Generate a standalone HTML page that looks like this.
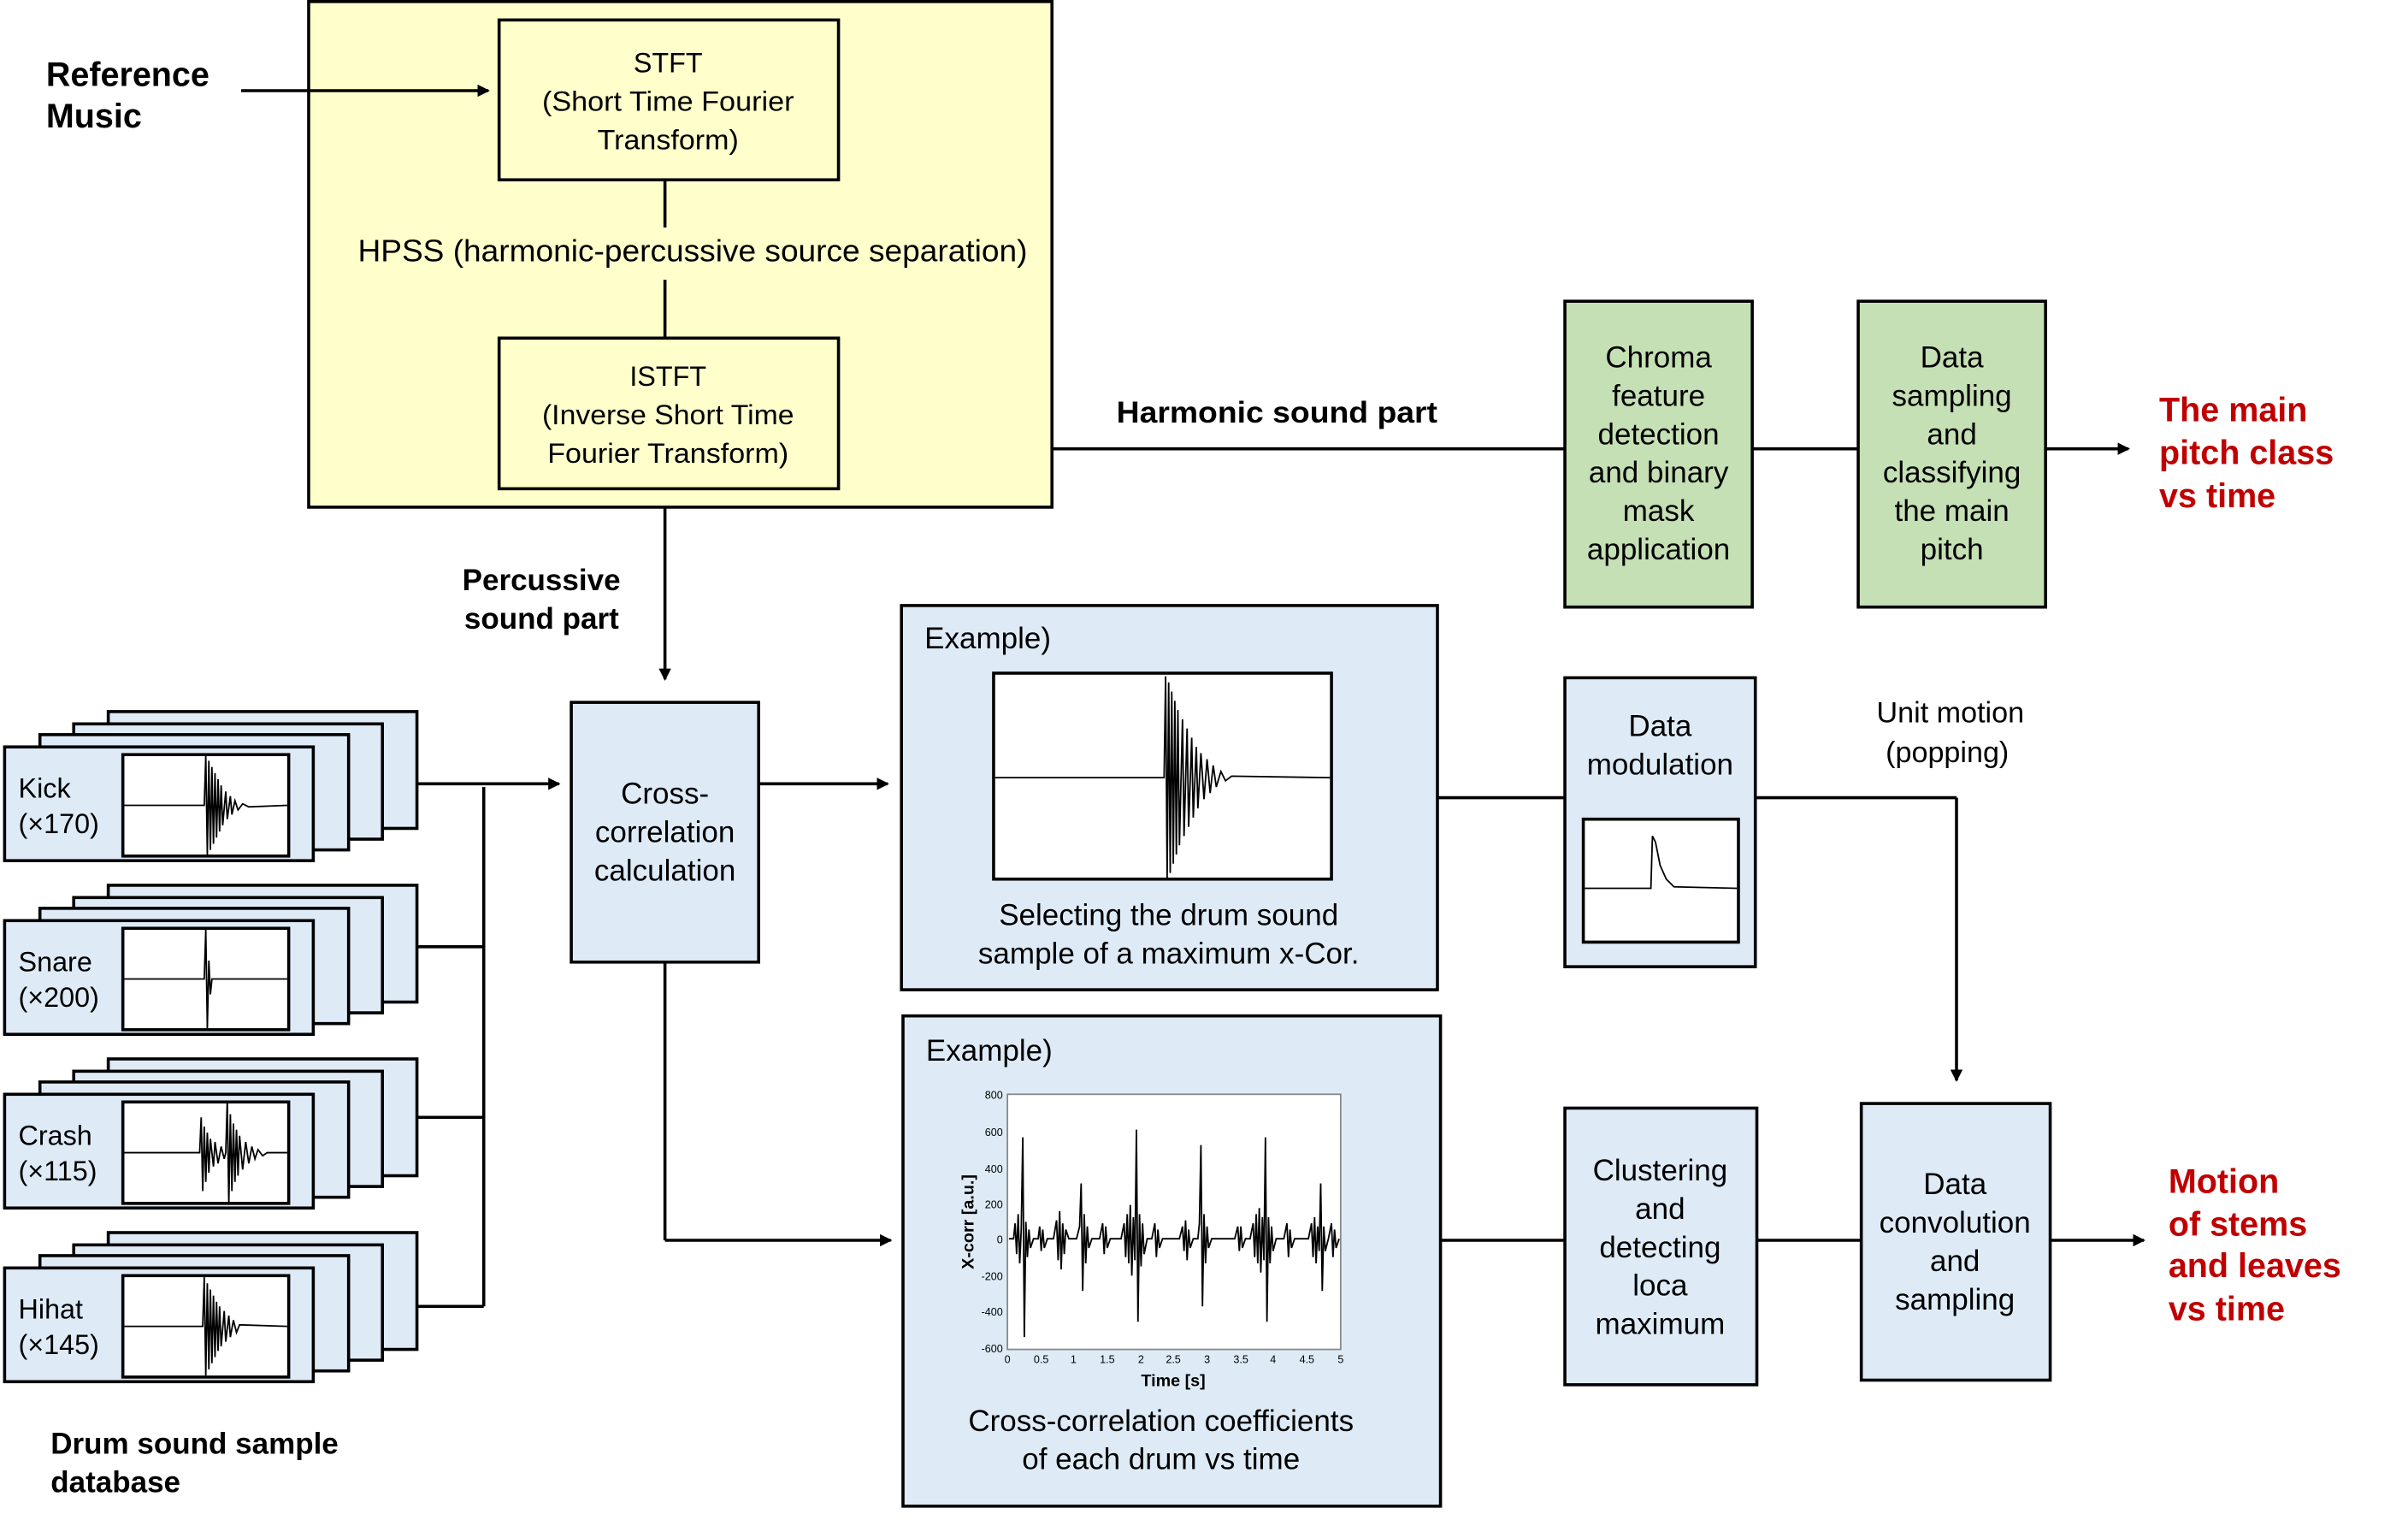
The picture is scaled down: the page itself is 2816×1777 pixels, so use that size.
<!DOCTYPE html>
<html><head><meta charset="utf-8"><style>
html,body{margin:0;padding:0;background:#fff;}
svg{display:block;}
text{font-family:"Liberation Sans",sans-serif;fill:#000;}
.b{font-weight:bold;}
.r{fill:#C00000;font-weight:bold;font-size:22px;}
.t{font-size:19.5px;text-anchor:middle;}
.y{font-size:18px;text-anchor:middle;}
.ln{stroke:#000;stroke-width:2;fill:none;}
.bx{stroke:#000;stroke-width:2;fill:#DEEBF7;}
.gr{stroke:#000;stroke-width:2;fill:#C5E0B4;}
.wv{stroke:#000;stroke-width:1;fill:none;}
</style></head><body>
<svg width="2816" height="1777" viewBox="0 0 1568 989" preserveAspectRatio="none" xmlns="http://www.w3.org/2000/svg">
<defs>
<marker id="a" markerWidth="8" markerHeight="8" refX="7" refY="4" orient="auto" markerUnits="userSpaceOnUse"><path d="M0,0 L8,4 L0,8 z" fill="#000"/></marker>
<g id="stack">
<rect x="70.5" y="463" width="201" height="76" class="bx"/>
<rect x="48" y="471" width="201" height="75" class="bx"/>
<rect x="26" y="478" width="201" height="75" class="bx"/>
<rect x="3" y="486" width="201" height="74" class="bx"/>
<rect x="80" y="491" width="108" height="66" fill="#fff" stroke="#000" stroke-width="2"/>
</g>
</defs>

<!-- yellow -->
<rect x="201" y="1" width="484" height="329" fill="#FFFFCC" stroke="#000" stroke-width="2"/>
<rect x="325" y="13" width="221" height="104" fill="#FFFFCC" stroke="#000" stroke-width="2"/>
<text x="435" y="47" class="y">STFT</text>
<text x="435" y="72" class="y" textLength="164" lengthAdjust="spacingAndGlyphs">(Short Time Fourier</text>
<text x="435" y="97" class="y" textLength="92" lengthAdjust="spacingAndGlyphs">Transform)</text>
<line x1="433" y1="117" x2="433" y2="148" class="ln"/>
<text x="451" y="170" font-size="20" text-anchor="middle" textLength="436" lengthAdjust="spacingAndGlyphs">HPSS (harmonic-percussive source separation)</text>
<line x1="433" y1="182" x2="433" y2="220" class="ln"/>
<rect x="325" y="220" width="221" height="98" fill="#FFFFCC" stroke="#000" stroke-width="2"/>
<text x="435" y="251" class="y">ISTFT</text>
<text x="435" y="276" class="y" textLength="164" lengthAdjust="spacingAndGlyphs">(Inverse Short Time</text>
<text x="435" y="301" class="y" textLength="157" lengthAdjust="spacingAndGlyphs">Fourier Transform)</text>

<!-- Reference music -->
<text x="30" y="56" class="b" font-size="22">Reference</text>
<text x="30" y="83" class="b" font-size="22">Music</text>
<line x1="157" y1="59" x2="318" y2="59" class="ln" stroke-width="1.5" marker-end="url(#a)"/>

<!-- harmonic path -->
<line x1="685" y1="292" x2="1019" y2="292" class="ln"/>
<text x="727" y="275" class="b" font-size="19.5" textLength="209" lengthAdjust="spacingAndGlyphs">Harmonic sound part</text>
<rect x="1019" y="196" width="122" height="199" class="gr"/>
<text class="t" x="1080" y="239">Chroma</text>
<text class="t" x="1080" y="264">feature</text>
<text class="t" x="1080" y="289">detection</text>
<text class="t" x="1080" y="314">and binary</text>
<text class="t" x="1080" y="339">mask</text>
<text class="t" x="1080" y="364">application</text>
<line x1="1141" y1="292" x2="1210" y2="292" class="ln"/>
<rect x="1210" y="196" width="122" height="199" class="gr"/>
<text class="t" x="1271" y="239">Data</text>
<text class="t" x="1271" y="264">sampling</text>
<text class="t" x="1271" y="289">and</text>
<text class="t" x="1271" y="314">classifying</text>
<text class="t" x="1271" y="339">the main</text>
<text class="t" x="1271" y="364">pitch</text>
<line x1="1332" y1="292" x2="1386" y2="292" class="ln" marker-end="url(#a)"/>
<text x="1406" y="274" class="r">The main</text>
<text x="1406" y="302" class="r">pitch class</text>
<text x="1406" y="330" class="r">vs time</text>

<!-- percussive -->
<line x1="433" y1="330" x2="433" y2="442" class="ln" stroke-width="1.5" marker-end="url(#a)"/>
<text x="404" y="384" class="b" font-size="19.5" text-anchor="end">Percussive</text>
<text x="403" y="409" class="b" font-size="19.5" text-anchor="end">sound part</text>

<!-- drum stacks -->
<use href="#stack"/>
<use href="#stack" y="113"/>
<use href="#stack" y="226"/>
<use href="#stack" y="339"/>
<text x="12" y="519" font-size="18">Kick</text>
<text x="12" y="542" font-size="18">(×170)</text>
<text x="12" y="632" font-size="18">Snare</text>
<text x="12" y="655" font-size="18">(×200)</text>
<text x="12" y="745" font-size="18">Crash</text>
<text x="12" y="768" font-size="18">(×115)</text>
<text x="12" y="858" font-size="18">Hihat</text>
<text x="12" y="881" font-size="18">(×145)</text>
<path class="wv" d="M81,524 L133,524 L134,492 L135,556 L136,495 L137,553 L138,499 L139,549 L140,503 L141,545 L142,507 L143,541 L144,511 L145,537 L147,515 L148,533 L150,518 L151,530 L153,521 L155,527 L158,523 L162,525 L187,524"/>
<path class="wv" d="M81,637 L132,637 L133,637 L134,605 L135,669 L136,625 L137,647 L138,637 L187,637"/>
<path class="wv" d="M81,750 L130,750 L131,727 L132,775 L133,733 L134,769 L135,737 L136,763 L137,741 L139,759 L140,743 L142,757 L144,746 L146,754 L147,750 L148,716 L149,784 L150,725 L151,775 L152,731 L153,769 L154,735 L155,765 L156,739 L158,761 L160,743 L162,757 L164,746 L166,754 L168,748 L171,752 L174,750 L187,750"/>
<path class="wv" d="M81,863 L132,863 L133,831 L134,895 L135,835 L136,891 L137,839 L138,887 L139,843 L140,883 L141,847 L142,879 L143,850 L144,876 L146,853 L147,873 L149,856 L150,870 L152,859 L154,867 L156,862 L187,863"/>
<line x1="272" y1="510" x2="364" y2="510" class="ln" marker-end="url(#a)"/>
<line x1="315" y1="512" x2="315" y2="850" class="ln"/>
<line x1="272" y1="616" x2="315" y2="616" class="ln"/>
<line x1="272" y1="727" x2="315" y2="727" class="ln"/>
<line x1="272" y1="850" x2="315" y2="850" class="ln"/>
<text x="33" y="946" class="b" font-size="19.5">Drum sound sample</text>
<text x="33" y="971" class="b" font-size="19.5">database</text>

<!-- cross-correlation -->
<rect x="372" y="457" width="122" height="169" class="bx"/>
<text class="t" x="433" y="523">Cross-</text>
<text class="t" x="433" y="548">correlation</text>
<text class="t" x="433" y="573">calculation</text>
<line x1="494" y1="510" x2="578" y2="510" class="ln" stroke-width="1.5" marker-end="url(#a)"/>
<line x1="433" y1="626" x2="433" y2="807" class="ln"/>
<line x1="433" y1="807" x2="580" y2="807" class="ln" stroke-width="1.5" marker-end="url(#a)"/>

<!-- example 1 -->
<rect x="587" y="394" width="349" height="250" class="bx"/>
<text x="602" y="422" font-size="19.5">Example)</text>
<rect x="647" y="438" width="220" height="134" fill="#fff" stroke="#000" stroke-width="2"/>
<path class="wv" d="M648,506 L758,506 L759,440 L760,572 L761,444 L762,568 L763,450 L764,562 L765,456 L766,556 L767,462 L768,550 L770,468 L771,544 L773,474 L774,538 L776,480 L777,532 L779,486 L780,526 L782,490 L784,520 L786,494 L788,516 L790,498 L792,512 L795,502 L798,508 L802,505 L866,506"/>
<text class="t" x="761" y="602">Selecting the drum sound</text>
<text class="t" x="761" y="627">sample of a maximum x-Cor.</text>

<!-- data modulation -->
<line x1="936" y1="519" x2="1019" y2="519" class="ln"/>
<rect x="1019" y="441" width="124" height="188" class="bx"/>
<text class="t" x="1081" y="479">Data</text>
<text class="t" x="1081" y="504">modulation</text>
<rect x="1031" y="533" width="101" height="80" fill="#fff" stroke="#000" stroke-width="2"/>
<path class="wv" d="M1032,578 L1075,578 L1076,544 L1078,548 L1081,563 L1085,572 L1090,577 L1131,578"/>
<line x1="1143" y1="519" x2="1274" y2="519" class="ln"/>
<line x1="1274" y1="519" x2="1274" y2="703" class="ln" stroke-width="1.5" marker-end="url(#a)"/>
<text x="1270" y="470" font-size="19" text-anchor="middle">Unit motion</text>
<text x="1268" y="496" font-size="19" text-anchor="middle">(popping)</text>

<!-- example 2 -->
<rect x="588" y="661" width="350" height="319" class="bx"/>
<text x="603" y="690" font-size="19.5">Example)</text>
<rect x="656" y="712" width="217" height="166" fill="#fff" stroke="#888" stroke-width="1"/>
<g font-size="7" text-anchor="end">
<text x="653" y="715">800</text><text x="653" y="739">600</text><text x="653" y="763">400</text><text x="653" y="786">200</text><text x="653" y="809">0</text><text x="653" y="833">-200</text><text x="653" y="856">-400</text><text x="653" y="880">-600</text>
</g>
<g font-size="7" text-anchor="middle">
<text x="656" y="887">0</text><text x="678" y="887">0.5</text><text x="699" y="887">1</text><text x="721" y="887">1.5</text><text x="743" y="887">2</text><text x="764" y="887">2.5</text><text x="786" y="887">3</text><text x="808" y="887">3.5</text><text x="829" y="887">4</text><text x="851" y="887">4.5</text><text x="873" y="887">5</text>
</g>
<text x="764" y="902" font-size="11" font-weight="bold" text-anchor="middle">Time [s]</text>
<text x="0" y="0" font-size="11" font-weight="bold" text-anchor="middle" transform="translate(634,795) rotate(-90)">X-corr [a.u.]</text>
<path class="wv" stroke-width="1.2" d="M657,806 L660,806 L661,796 L662,816 L663,790 L664,822 L665,800 L666,740 L667,870 L668,795 L669,818 L670,800 L671,812 L673,806 L676,806 L677,798 L678,814 L679,800 L680,812 L682,806 L686,806 L688,794 L689,820 L690,788 L691,826 L692,796 L693,816 L694,800 L696,806 L701,806 L703,798 L704,770 L705,840 L706,790 L707,822 L708,798 L709,812 L711,806 L716,806 L718,796 L719,816 L720,798 L721,812 L723,806 L730,806 L732,796 L733,818 L734,790 L735,822 L736,784 L737,830 L738,792 L739,820 L740,735 L741,860 L742,790 L743,824 L744,796 L745,816 L747,806 L750,806 L752,796 L753,818 L754,800 L755,812 L757,806 L768,806 L770,798 L771,814 L772,794 L773,820 L774,800 L775,812 L777,806 L780,806 L781,796 L782,745 L783,850 L784,790 L785,822 L786,798 L787,812 L789,806 L804,806 L806,798 L807,814 L808,798 L809,812 L811,806 L814,806 L816,796 L817,818 L818,790 L819,822 L820,786 L821,828 L822,792 L823,820 L824,740 L825,860 L826,792 L827,822 L828,798 L829,814 L831,806 L836,806 L838,796 L839,818 L840,800 L841,812 L843,806 L852,806 L854,796 L855,818 L856,792 L857,822 L858,798 L859,814 L860,770 L861,840 L862,798 L863,814 L865,806 L867,796 L868,818 L869,800 L870,812 L872,806"/>
<text class="t" x="756" y="931">Cross-correlation coefficients</text>
<text class="t" x="756" y="956">of each drum vs time</text>

<!-- clustering -->
<line x1="938" y1="807" x2="1019" y2="807" class="ln"/>
<rect x="1019" y="721" width="125" height="180" class="bx"/>
<text class="t" x="1081" y="768">Clustering</text>
<text class="t" x="1081" y="793">and</text>
<text class="t" x="1081" y="818">detecting</text>
<text class="t" x="1081" y="843">loca</text>
<text class="t" x="1081" y="868">maximum</text>
<line x1="1144" y1="807" x2="1212" y2="807" class="ln"/>
<rect x="1212" y="718" width="123" height="180" class="bx"/>
<text class="t" x="1273" y="777">Data</text>
<text class="t" x="1273" y="802">convolution</text>
<text class="t" x="1273" y="827">and</text>
<text class="t" x="1273" y="852">sampling</text>
<line x1="1335" y1="807" x2="1396" y2="807" class="ln" marker-end="url(#a)"/>
<text x="1412" y="776" class="r">Motion</text>
<text x="1412" y="804" class="r">of stems</text>
<text x="1412" y="831" class="r">and leaves</text>
<text x="1412" y="859" class="r">vs time</text>
</svg>
</body></html>
